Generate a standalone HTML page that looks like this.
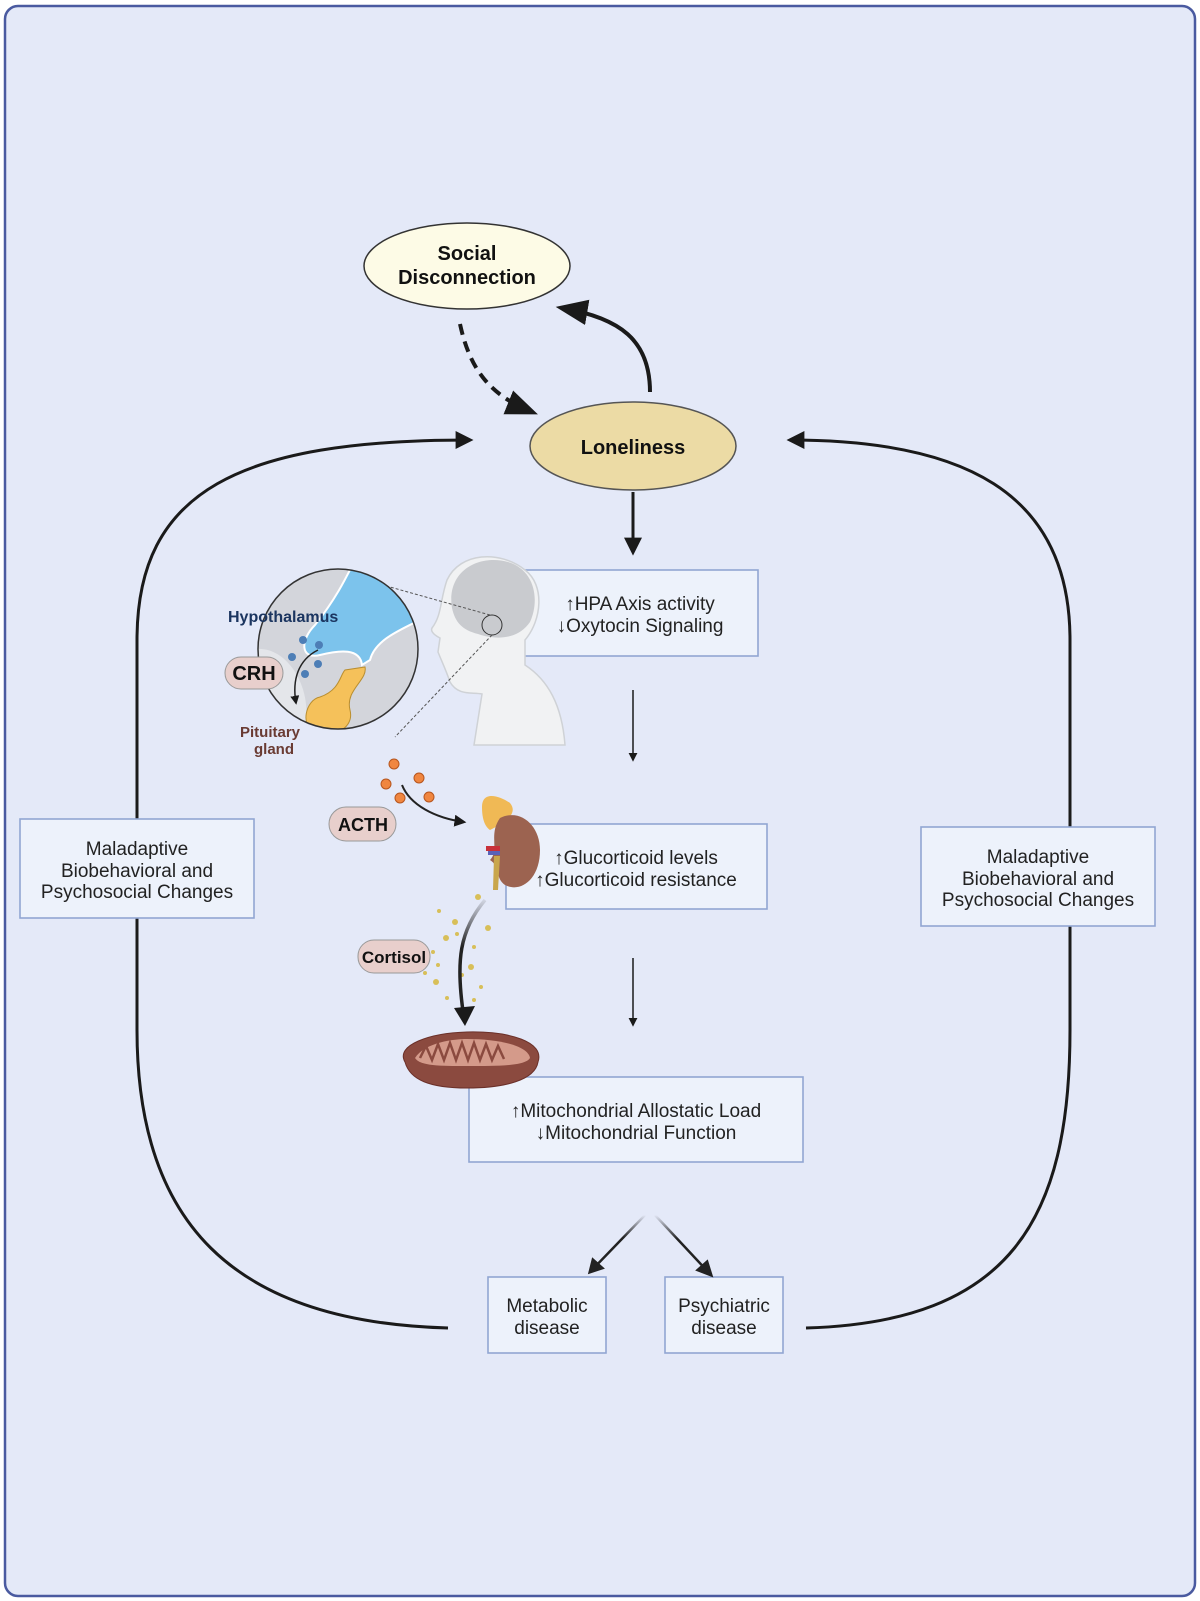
<!DOCTYPE html>
<html><head><meta charset="utf-8"><style>
html,body{margin:0;padding:0;background:#fff;}
svg{display:block;}
text{font-family:"Liberation Sans",Arial,sans-serif;}
</style></head><body>
<svg width="1200" height="1601" viewBox="0 0 1200 1601" xmlns="http://www.w3.org/2000/svg">
<defs>
<marker id="ah" viewBox="0 0 10 10" refX="8" refY="5" markerWidth="6" markerHeight="6" orient="auto-start-reverse"><path d="M0,0 L10,5 L0,10 z" fill="#1a1a1a"/></marker>
<marker id="ahs" viewBox="0 0 10 10" refX="8" refY="5" markerWidth="8" markerHeight="8" orient="auto"><path d="M0,1 L10,5 L0,9 z" fill="#1a1a1a"/></marker>
<linearGradient id="fadeL" x1="0" y1="0" x2="0" y2="1"><stop offset="0" stop-color="#222" stop-opacity="0"/><stop offset="0.4" stop-color="#222"/></linearGradient>
<linearGradient id="cortG" x1="0" y1="0" x2="0" y2="1"><stop offset="0" stop-color="#222" stop-opacity="0.1"/><stop offset="0.4" stop-color="#222"/></linearGradient>
<clipPath id="cc"><circle cx="338" cy="649" r="80"/></clipPath>
</defs>
<rect x="5" y="6" width="1190" height="1590" rx="13" fill="#e4e9f8" stroke="#4a5aa0" stroke-width="2.5"/>

<path d="M448,1328 C230,1322 137,1220 137,1030 L137,640 C137,490 240,440 470,440" fill="none" stroke="#1a1a1a" stroke-width="3" marker-end="url(#ah)"/>
<path d="M806,1328 C1010,1322 1070,1220 1070,1030 L1070,640 C1070,490 960,440 790,440" fill="none" stroke="#1a1a1a" stroke-width="3" marker-end="url(#ah)"/>

<ellipse cx="467" cy="266" rx="103" ry="43" fill="#fdfbe6" stroke="#333" stroke-width="1.5"/>
<text x="467" y="260" font-size="20" font-weight="bold" text-anchor="middle" fill="#111">Social</text>
<text x="467" y="284" font-size="20" font-weight="bold" text-anchor="middle" fill="#111">Disconnection</text>
<ellipse cx="633" cy="446" rx="103" ry="44" fill="#ecdba5" stroke="#555" stroke-width="1.5"/>
<text x="633" y="454" font-size="20" font-weight="bold" text-anchor="middle" fill="#111">Loneliness</text>

<path d="M650,392 C650,340 620,318 562,308" fill="none" stroke="#1a1a1a" stroke-width="4" marker-end="url(#ahs)"/>
<path d="M460,324 C470,370 490,395 532,412" fill="none" stroke="#1a1a1a" stroke-width="4" stroke-dasharray="11,7" marker-end="url(#ahs)"/>
<line x1="633" y1="492" x2="633" y2="552" stroke="#1a1a1a" stroke-width="3" marker-end="url(#ah)"/>

<g fill="#edf2fb" stroke="#91a6d2" stroke-width="1.6">
<rect x="522" y="570" width="236" height="86"/>
<rect x="506" y="824" width="261" height="85"/>
<rect x="469" y="1077" width="334" height="85"/>
<rect x="488" y="1277" width="118" height="76"/>
<rect x="665" y="1277" width="118" height="76"/>
<rect x="20" y="819" width="234" height="99"/>
<rect x="921" y="827" width="234" height="99"/>
</g>
<g font-size="19" fill="#222" text-anchor="middle">
<text x="640" y="610">↑HPA Axis activity</text>
<text x="640" y="632">↓Oxytocin Signaling</text>
<text x="636" y="864">↑Glucorticoid levels</text>
<text x="636" y="886">↑Glucorticoid resistance</text>
<text x="636" y="1117">↑Mitochondrial Allostatic Load</text>
<text x="636" y="1139">↓Mitochondrial Function</text>
<text x="547" y="1312">Metabolic</text>
<text x="547" y="1334">disease</text>
<text x="724" y="1312">Psychiatric</text>
<text x="724" y="1334">disease</text>
<text x="137" y="855">Maladaptive</text>
<text x="137" y="877">Biobehavioral and</text>
<text x="137" y="898">Psychosocial Changes</text>
<text x="1038" y="863">Maladaptive</text>
<text x="1038" y="885">Biobehavioral and</text>
<text x="1038" y="906">Psychosocial Changes</text>
</g>
<line x1="633" y1="690" x2="633" y2="760" stroke="#1a1a1a" stroke-width="1.5" marker-end="url(#ah)"/>
<line x1="633" y1="958" x2="633" y2="1025" stroke="#1a1a1a" stroke-width="1.5" marker-end="url(#ah)"/>
<path d="M645,1215 L590,1272" stroke="url(#fadeL)" stroke-width="2.5" fill="none"/>
<path d="M593,1260 L590,1272 L602,1268 z" fill="#222" stroke="#222" stroke-width="3"/>
<path d="M655,1215 L711,1275" stroke="url(#fadeL)" stroke-width="2.5" fill="none"/>
<path d="M698,1270 L711,1275 L707,1262 z" fill="#222" stroke="#222" stroke-width="3"/>

<!-- head -->
<path d="M565,745 C562,705 548,680 525,665 L525,640 C542,620 545,585 525,570 C500,550 460,552 447,580 C440,600 442,615 432,628 C430,632 436,636 440,638 L438,652 C442,662 446,670 450,682 C458,696 472,692 482,694 L474,745 z" fill="#f1f2f3" stroke="#cfd2d6" stroke-width="1.5"/>
<path d="M452,608 C446,570 480,554 508,562 C535,570 540,600 530,622 C518,640 495,640 478,634 C462,630 455,622 452,608 z" fill="#c9cbcf"/>
<circle cx="492" cy="625" r="10" fill="none" stroke="#333" stroke-width="1"/>
<line x1="490" y1="615" x2="365" y2="580" stroke="#555" stroke-width="1" stroke-dasharray="3,2"/>
<line x1="492" y1="635" x2="395" y2="737" stroke="#555" stroke-width="1" stroke-dasharray="3,2"/>

<g clip-path="url(#cc)">
<rect x="250" y="560" width="180" height="180" fill="#d3d5db"/>
<path d="M250,650 C290,640 320,700 300,740 L250,740 z" fill="#e4e6ea"/>
<path d="M355,560 L420,560 L420,620 C400,630 375,640 370,660 L362,665 C360,648 340,650 320,655 C300,660 300,640 315,625 C335,600 345,580 355,560 z" fill="#7cc3ec" stroke="#fff" stroke-width="2"/>
<path d="M365,667 C368,680 345,690 350,710 C355,730 330,738 315,732 C300,727 305,700 320,697 C340,690 340,675 345,670 z" fill="#f5c15a" stroke="#b98e30" stroke-width="1"/>
</g>
<circle cx="338" cy="649" r="80" fill="none" stroke="#333" stroke-width="1.5"/>
<g fill="#4d7eb6"><circle cx="303" cy="640" r="4"/><circle cx="319" cy="645" r="4"/><circle cx="292" cy="657" r="4"/><circle cx="318" cy="664" r="4"/><circle cx="305" cy="674" r="4"/></g>
<path d="M318,650 C298,660 292,680 296,703" fill="none" stroke="#222" stroke-width="1.5" marker-end="url(#ah)"/>
<text x="228" y="622" font-size="16" font-weight="bold" fill="#1b3560">Hypothalamus</text>
<rect x="225" y="657" width="58" height="32" rx="16" fill="#e8cfcc" stroke="#999" stroke-width="1"/>
<text x="254" y="680" font-size="20" font-weight="bold" text-anchor="middle" fill="#111">CRH</text>
<text x="270" y="737" font-size="15" font-weight="bold" text-anchor="middle" fill="#6a3b33">Pituitary</text>
<text x="274" y="754" font-size="15" font-weight="bold" text-anchor="middle" fill="#6a3b33">gland</text>

<g fill="#f08640" stroke="#b6551e" stroke-width="1"><circle cx="394" cy="764" r="5"/><circle cx="386" cy="784" r="5"/><circle cx="419" cy="778" r="5"/><circle cx="400" cy="798" r="5"/><circle cx="429" cy="797" r="5"/></g>
<path d="M402,785 C410,805 435,818 464,822" fill="none" stroke="#222" stroke-width="2" marker-end="url(#ah)"/>
<rect x="329" y="807" width="67" height="34" rx="17" fill="#e8cfcc" stroke="#999" stroke-width="1"/>
<text x="363" y="831" font-size="18" font-weight="bold" text-anchor="middle" fill="#111">ACTH</text>

<path d="M482,807 C482,790 500,796 510,803 C520,815 500,825 490,830 C484,826 482,817 482,807 z" fill="#f0b955"/>
<path d="M500,818 C520,808 540,825 540,850 C540,880 520,893 505,885 C495,878 500,866 490,860 C500,850 488,835 500,818 z" fill="#9c6350"/>
<rect x="486" y="846" width="14" height="5" fill="#c8303a"/><rect x="488" y="851" width="12" height="4" fill="#5a62b8"/>
<path d="M494,856 L500,856 L498,890 L493,890 z" fill="#c9a64c"/>

<g fill="#d6b83e" opacity="0.85"><circle cx="478" cy="897" r="3"/><circle cx="455" cy="922" r="3"/><circle cx="488" cy="928" r="3"/><circle cx="446" cy="938" r="3"/><circle cx="471" cy="967" r="3"/><circle cx="436" cy="982" r="3"/><circle cx="439" cy="911" r="2"/><circle cx="457" cy="934" r="2"/><circle cx="474" cy="947" r="2"/><circle cx="433" cy="952" r="2"/><circle cx="438" cy="965" r="2"/><circle cx="462" cy="975" r="2"/><circle cx="481" cy="987" r="2"/><circle cx="447" cy="998" r="2"/><circle cx="474" cy="1000" r="2"/><circle cx="425" cy="973" r="2"/></g>
<path d="M485,900 C460,930 455,960 464,1018" fill="none" stroke="url(#cortG)" stroke-width="3.5"/>
<path d="M454,1008 L465,1026 L475,1006 z" fill="#1a1a1a"/>
<rect x="358" y="940" width="72" height="33" rx="16" fill="#e8cfcc" stroke="#999" stroke-width="1"/>
<text x="394" y="963" font-size="17" font-weight="bold" text-anchor="middle" fill="#111">Cortisol</text>

<path d="M405,1062 C395,1045 430,1033 467,1032 C510,1031 545,1042 538,1062 C535,1080 505,1088 467,1088 C430,1088 410,1080 405,1062 z" fill="#8b4a3f" stroke="#6b3029" stroke-width="1"/>
<path d="M415,1058 C425,1042 455,1039 467,1039 C500,1039 528,1046 530,1058 C525,1066 500,1066 467,1066 C440,1066 420,1066 415,1058 z" fill="#d49a8a"/>
<path d="M420,1058 l6,-12 l6,14 l6,-16 l6,16 l6,-17 l6,17 l6,-17 l6,17 l6,-17 l6,17 l6,-16 l6,16 l6,-14 l6,13" fill="none" stroke="#8b4a3f" stroke-width="2.5"/>
</svg>
</body></html>
